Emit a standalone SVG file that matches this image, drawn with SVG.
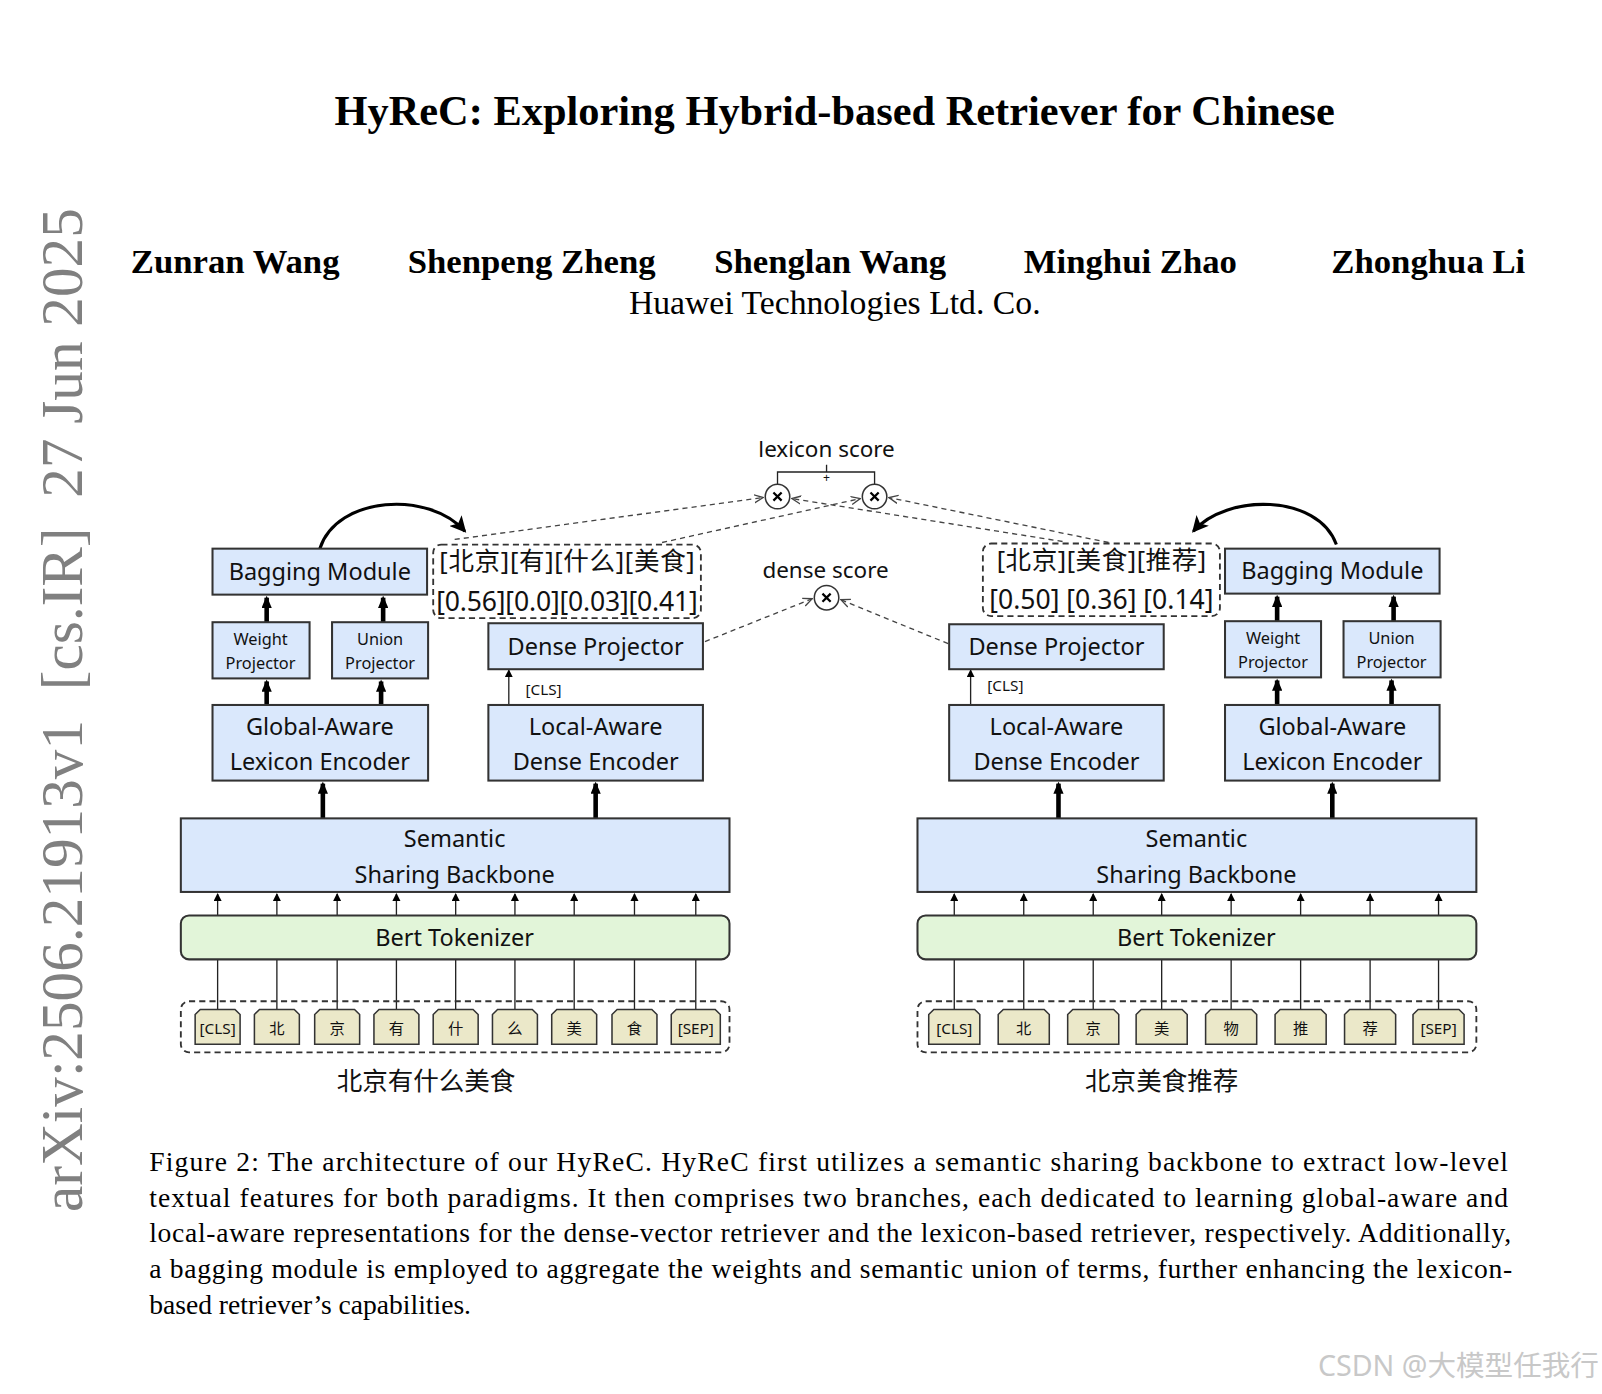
<svg xmlns="http://www.w3.org/2000/svg" width="1602" height="1394" viewBox="0 0 1602 1394">
<defs>
<style>
.s{font-family:"Liberation Serif",serif;fill:#000}
.b{fill:#dae8fc;stroke:#333;stroke-width:2}
.t{font-family:"Noto Sans","Noto Sans CJK SC",sans-serif;fill:#111;text-anchor:middle}
.tok{fill:#ebe8c9;stroke:#333;stroke-width:1.5}
.thin{stroke:#222;stroke-width:1.3;fill:none}
.thick{stroke:#000;stroke-width:4.5;fill:none}
.dash{stroke:#444;stroke-width:1.3;fill:none;stroke-dasharray:5,4}
.dbox{fill:none;stroke:#333;stroke-width:1.8;stroke-dasharray:6,4}
.x{stroke:#000;stroke-width:2.2;fill:none}
</style>
<marker id="a" markerWidth="8" markerHeight="8" refX="7" refY="4" orient="auto" markerUnits="userSpaceOnUse"><path d="M0,0 L8,4 L0,8 z" fill="#000"/></marker>
<marker id="ab" markerWidth="12" markerHeight="10" refX="10" refY="5" orient="auto" markerUnits="userSpaceOnUse"><path d="M0,0 L12,5 L0,10 z" fill="#000"/></marker>
<marker id="ao" markerWidth="10" markerHeight="10" refX="9" refY="5" orient="auto" markerUnits="userSpaceOnUse"><path d="M0,1 L9,5 L0,9" fill="none" stroke="#444" stroke-width="1.3"/></marker>
<marker id="ac" markerWidth="18" markerHeight="16" refX="14" refY="8" orient="auto" markerUnits="userSpaceOnUse"><path d="M0,0 L16,8 L0,16 L4,8 z" fill="#000"/></marker>
</defs>
<rect width="1602" height="1394" fill="#fff"/>
<g transform="scale(1.0217)">
<g id="header">
<text class="s" x="817" y="122" font-size="41.5" font-weight="bold" text-anchor="middle">HyReC: Exploring Hybrid-based Retriever for Chinese</text>
<text class="s" font-size="34" font-weight="bold" y="267"><tspan x="128">Zunran Wang</tspan><tspan x="399">Shenpeng Zheng</tspan><tspan x="699">Shenglan Wang</tspan><tspan x="1002">Minghui Zhao</tspan><tspan x="1303">Zhonghua Li</tspan></text>
<text class="s" x="817" y="307" font-size="33" text-anchor="middle">Huawei Technologies Ltd. Co.</text>
<text class="s" transform="translate(80,695) rotate(-90)" font-size="58" style="fill:#808080" text-anchor="middle" xml:space="preserve">arXiv:2506.21913v1  [cs.IR]  27 Jun 2025</text>
</g>
<g id="connectors">
<path class="thick" d="M261,609 V585" marker-end="url(#ab)"/>
<path class="thick" d="M375,609 V585" marker-end="url(#ab)"/>
<path class="thick" d="M261,690 V667" marker-end="url(#ab)"/>
<path class="thick" d="M373,690 V667" marker-end="url(#ab)"/>
<path class="thick" d="M316,801 V767" marker-end="url(#ab)"/>
<path class="thick" d="M583,801 V767" marker-end="url(#ab)"/>
<path class="thin" d="M498,690 V656" marker-end="url(#a)"/>
<path d="M313,537 C330,485 420,480 455,520" fill="none" stroke="#000" stroke-width="3" marker-end="url(#ac)"/>
<path class="thick" d="M1250,608 V584" marker-end="url(#ab)"/>
<path class="thick" d="M1364,608 V584" marker-end="url(#ab)"/>
<path class="thick" d="M1250,690 V666" marker-end="url(#ab)"/>
<path class="thick" d="M1362,690 V666" marker-end="url(#ab)"/>
<path class="thick" d="M1036,801 V767" marker-end="url(#ab)"/>
<path class="thick" d="M1304,801 V767" marker-end="url(#ab)"/>
<path class="thin" d="M950,690 V656" marker-end="url(#a)"/>
<path d="M1308,533 C1290,483 1200,483 1168,520" fill="none" stroke="#000" stroke-width="3" marker-end="url(#ac)"/>
<g class="thin">
<path d="M213,988 V939"/><path d="M271,988 V939"/><path d="M330,988 V939"/><path d="M388,988 V939"/><path d="M446,988 V939"/><path d="M504,988 V939"/><path d="M562,988 V939"/><path d="M621,988 V939"/><path d="M681,988 V939"/>
<path d="M213,896 V875" marker-end="url(#a)"/><path d="M271,896 V875" marker-end="url(#a)"/><path d="M330,896 V875" marker-end="url(#a)"/><path d="M388,896 V875" marker-end="url(#a)"/><path d="M446,896 V875" marker-end="url(#a)"/><path d="M504,896 V875" marker-end="url(#a)"/><path d="M562,896 V875" marker-end="url(#a)"/><path d="M621,896 V875" marker-end="url(#a)"/><path d="M681,896 V875" marker-end="url(#a)"/>
<path d="M934,988 V939"/><path d="M1002,988 V939"/><path d="M1070,988 V939"/><path d="M1137,988 V939"/><path d="M1205,988 V939"/><path d="M1273,988 V939"/><path d="M1341,988 V939"/><path d="M1408,988 V939"/>
<path d="M934,896 V875" marker-end="url(#a)"/><path d="M1002,896 V875" marker-end="url(#a)"/><path d="M1070,896 V875" marker-end="url(#a)"/><path d="M1137,896 V875" marker-end="url(#a)"/><path d="M1205,896 V875" marker-end="url(#a)"/><path d="M1273,896 V875" marker-end="url(#a)"/><path d="M1341,896 V875" marker-end="url(#a)"/><path d="M1408,896 V875" marker-end="url(#a)"/>
</g>
<path class="dash" d="M445,528 L747,487" marker-end="url(#ao)"/>
<path class="dash" d="M648,531 L842,488" marker-end="url(#ao)"/>
<path class="dash" d="M1040,530 L775,488" marker-end="url(#ao)"/>
<path class="dash" d="M1085,531 L870,487" marker-end="url(#ao)"/>
<path class="dash" d="M690,628 L795,586" marker-end="url(#ao)"/>
<path class="dash" d="M928,630 L823,587" marker-end="url(#ao)"/>
<path class="thin" d="M761,474 V462 H856 V474 M809,462 V455"/>
</g>
<g id="scores">
<text class="t" x="809" y="447" font-size="22">lexicon score</text>
<text class="t" x="809" y="472" font-size="12">+</text>
<circle cx="761" cy="486" r="12" fill="#fff" stroke="#333" stroke-width="1.5"/>
<path class="x" d="M757,482 l8,8 m0,-8 l-8,8"/>
<circle cx="856" cy="486" r="12" fill="#fff" stroke="#333" stroke-width="1.5"/>
<path class="x" d="M852,482 l8,8 m0,-8 l-8,8"/>
<text class="t" x="808" y="566" font-size="22">dense score</text>
<circle cx="809" cy="585" r="12" fill="#fff" stroke="#333" stroke-width="1.5"/>
<path class="x" d="M805,581 l8,8 m0,-8 l-8,8"/>
</g>
<g id="left-bagging"><rect class="b" x="208" y="537" width="210" height="45"/><text class="t" x="313" y="568" font-size="23">Bagging Module</text></g>
<g id="left-weight"><rect class="b" x="208" y="609" width="95" height="55"/><text class="t" x="255" y="631" font-size="16">Weight</text><text class="t" x="255" y="655" font-size="16">Projector</text></g>
<g id="left-union"><rect class="b" x="325" y="609" width="94" height="55"/><text class="t" x="372" y="631" font-size="16">Union</text><text class="t" x="372" y="655" font-size="16">Projector</text></g>
<g id="left-global"><rect class="b" x="208" y="690" width="211" height="74"/><text class="t" x="313" y="719" font-size="23">Global-Aware</text><text class="t" x="313" y="754" font-size="23">Lexicon Encoder</text></g>
<g id="left-local"><rect class="b" x="478" y="690" width="210" height="74"/><text class="t" x="583" y="719" font-size="23">Local-Aware</text><text class="t" x="583" y="754" font-size="23">Dense Encoder</text></g>
<g id="left-dense-proj"><rect class="b" x="478" y="610" width="210" height="45"/><text class="t" x="583" y="641" font-size="23">Dense Projector</text><text class="t" x="532" y="680" font-size="15">[CLS]</text></g>
<g id="left-terms"><rect class="dbox" x="424" y="533" width="262" height="72" rx="8"/><text class="t" x="555" y="558" font-size="25" textLength="250">[北京][有][什么][美食]</text><text class="t" x="555" y="598" font-size="26" textLength="256">[0.56][0.0][0.03][0.41]</text></g>
<g id="left-backbone"><rect class="b" x="177" y="801" width="537" height="72"/><text class="t" x="445" y="829" font-size="23">Semantic</text><text class="t" x="445" y="864" font-size="23">Sharing Backbone</text></g>
<g id="left-tokenizer"><rect x="177" y="896" width="537" height="43" rx="8" fill="#e2f5d9" stroke="#333" stroke-width="2"/><text class="t" x="445" y="926" font-size="23">Bert Tokenizer</text></g>
<g id="left-tokens">
<rect class="dbox" x="177" y="980" width="537" height="50" rx="8"/>
<g class="t" font-size="15">
<path class="tok" d="M191,1022 V993 l5,-5 h34 l5,5 V1022 z"/><text x="213" y="1012">[CLS]</text>
<path class="tok" d="M249,1022 V993 l5,-5 h34 l5,5 V1022 z"/><text x="271" y="1012">北</text>
<path class="tok" d="M308,1022 V993 l5,-5 h34 l5,5 V1022 z"/><text x="330" y="1012">京</text>
<path class="tok" d="M366,1022 V993 l5,-5 h34 l5,5 V1022 z"/><text x="388" y="1012">有</text>
<path class="tok" d="M424,1022 V993 l5,-5 h34 l5,5 V1022 z"/><text x="446" y="1012">什</text>
<path class="tok" d="M482,1022 V993 l5,-5 h34 l5,5 V1022 z"/><text x="504" y="1012">么</text>
<path class="tok" d="M540,1022 V993 l5,-5 h34 l5,5 V1022 z"/><text x="562" y="1012">美</text>
<path class="tok" d="M599,1022 V993 l5,-5 h34 l5,5 V1022 z"/><text x="621" y="1012">食</text>
<path class="tok" d="M657,1022 V993 l5,-5 h38 l5,5 V1022 z"/><text x="681" y="1012">[SEP]</text>
</g>
<text class="t" x="417" y="1067" font-size="25">北京有什么美食</text>
</g>
<g id="right-bagging"><rect class="b" x="1199" y="537" width="210" height="44"/><text class="t" x="1304" y="567" font-size="23">Bagging Module</text></g>
<g id="right-weight"><rect class="b" x="1199" y="608" width="94" height="55"/><text class="t" x="1246" y="630" font-size="16">Weight</text><text class="t" x="1246" y="654" font-size="16">Projector</text></g>
<g id="right-union"><rect class="b" x="1315" y="608" width="95" height="55"/><text class="t" x="1362" y="630" font-size="16">Union</text><text class="t" x="1362" y="654" font-size="16">Projector</text></g>
<g id="right-global"><rect class="b" x="1199" y="690" width="210" height="74"/><text class="t" x="1304" y="719" font-size="23">Global-Aware</text><text class="t" x="1304" y="754" font-size="23">Lexicon Encoder</text></g>
<g id="right-local"><rect class="b" x="929" y="690" width="210" height="74"/><text class="t" x="1034" y="719" font-size="23">Local-Aware</text><text class="t" x="1034" y="754" font-size="23">Dense Encoder</text></g>
<g id="right-dense-proj"><rect class="b" x="929" y="611" width="210" height="44"/><text class="t" x="1034" y="641" font-size="23">Dense Projector</text><text class="t" x="984" y="676" font-size="15">[CLS]</text></g>
<g id="right-terms"><rect class="dbox" x="962" y="532" width="232" height="71" rx="8"/><text class="t" x="1078" y="557" font-size="25" textLength="205">[北京][美食][推荐]</text><text class="t" x="1078" y="596" font-size="26">[0.50] [0.36] [0.14]</text></g>
<g id="right-backbone"><rect class="b" x="898" y="801" width="547" height="72"/><text class="t" x="1171" y="829" font-size="23">Semantic</text><text class="t" x="1171" y="864" font-size="23">Sharing Backbone</text></g>
<g id="right-tokenizer"><rect x="898" y="896" width="547" height="43" rx="8" fill="#e2f5d9" stroke="#333" stroke-width="2"/><text class="t" x="1171" y="926" font-size="23">Bert Tokenizer</text></g>
<g id="right-tokens">
<rect class="dbox" x="898" y="980" width="547" height="50" rx="8"/>
<g class="t" font-size="15">
<path class="tok" d="M909,1022 V993 l5,-5 h40 l5,5 V1022 z"/><text x="934" y="1012">[CLS]</text>
<path class="tok" d="M977,1022 V993 l5,-5 h40 l5,5 V1022 z"/><text x="1002" y="1012">北</text>
<path class="tok" d="M1045,1022 V993 l5,-5 h40 l5,5 V1022 z"/><text x="1070" y="1012">京</text>
<path class="tok" d="M1112,1022 V993 l5,-5 h40 l5,5 V1022 z"/><text x="1137" y="1012">美</text>
<path class="tok" d="M1180,1022 V993 l5,-5 h40 l5,5 V1022 z"/><text x="1205" y="1012">物</text>
<path class="tok" d="M1248,1022 V993 l5,-5 h40 l5,5 V1022 z"/><text x="1273" y="1012">推</text>
<path class="tok" d="M1316,1022 V993 l5,-5 h40 l5,5 V1022 z"/><text x="1341" y="1012">荐</text>
<path class="tok" d="M1383,1022 V993 l5,-5 h40 l5,5 V1022 z"/><text x="1408" y="1012">[SEP]</text>
</g>
<text class="t" x="1137" y="1067" font-size="25">北京美食推荐</text>
</g>
<g id="caption" class="s" font-size="27">
<text x="146" y="1146" textLength="1330" lengthAdjust="spacing">Figure 2: The architecture of our HyReC. HyReC first utilizes a semantic sharing backbone to extract low-level</text>
<text x="146" y="1181" textLength="1330" lengthAdjust="spacing">textual features for both paradigms. It then comprises two branches, each dedicated to learning global-aware and</text>
<text x="146" y="1216" textLength="1333" lengthAdjust="spacing">local-aware representations for the dense-vector retriever and the lexicon-based retriever, respectively. Additionally,</text>
<text x="146" y="1251" textLength="1334" lengthAdjust="spacing">a bagging module is employed to aggregate the weights and semantic union of terms, further enhancing the lexicon-</text>
<text x="146" y="1286">based retriever’s capabilities.</text>
</g>
<text x="1565" y="1347" font-size="28" text-anchor="end" fill="#c8c8c8" font-family="Noto Sans, Noto Sans CJK SC, sans-serif">CSDN @大模型任我行</text>
</g>
</svg>
